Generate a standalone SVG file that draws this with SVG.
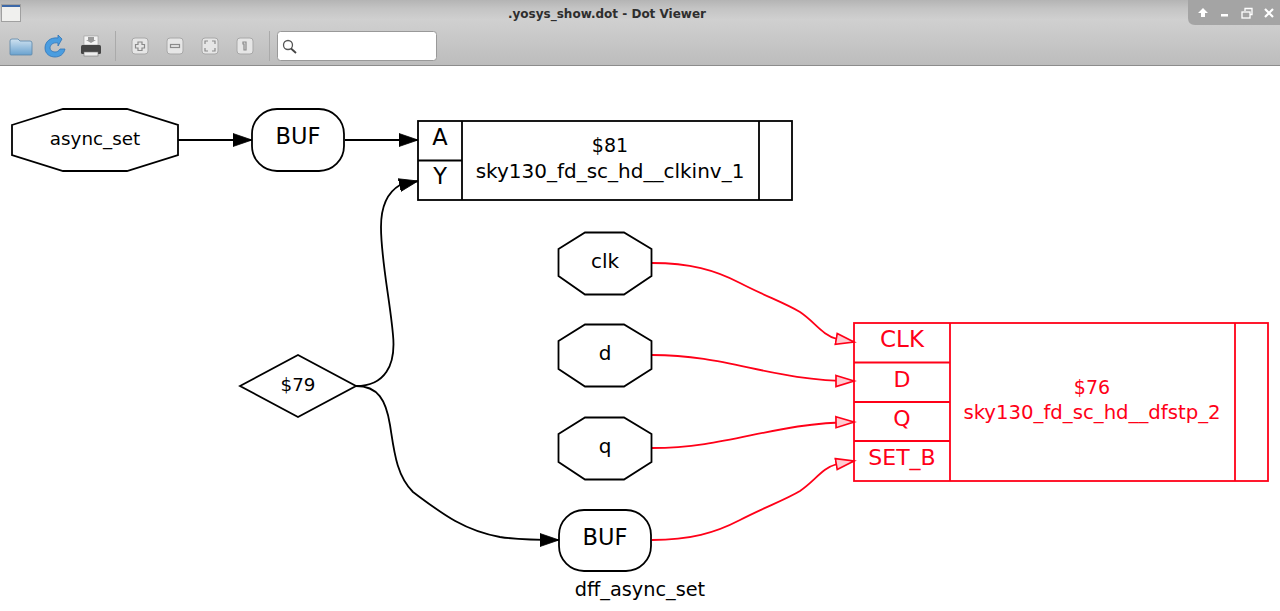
<svg xmlns="http://www.w3.org/2000/svg" width="1280" height="611" viewBox="0 0 1280 611">
<style>
text{font-family:"DejaVu Sans",sans-serif;text-anchor:middle}
.n{fill:#fff;stroke:#000;stroke-width:1.8}
.k{fill:none;stroke:#000;stroke-width:1.8}
.r{fill:none;stroke:#ff0018;stroke-width:1.8}
.t{fill:#000}
.rt{fill:#ff0018}
.s{font-size:18.300px}
.m{font-size:20px}
.rm{font-size:19.700px}
.l{font-size:22.500px}
.tb{fill:#e6e6e6;stroke:#a8a8a8;stroke-width:1}
.ic{fill:none;stroke:#8a8a8a;stroke-width:1.2}
</style>
<defs>
<linearGradient id="bar" x1="0" y1="0" x2="0" y2="1">
<stop offset="0" stop-color="#b4b4b4"/><stop offset="0.13" stop-color="#c4c4c4"/><stop offset="0.3" stop-color="#d0d0d0"/><stop offset="1" stop-color="#bcbcbc"/>
</linearGradient>
<linearGradient id="folder" x1="0" y1="0" x2="0" y2="1"><stop offset="0" stop-color="#cfe2f0"/><stop offset="1" stop-color="#6aa2cf"/></linearGradient>
<marker id="ah" markerUnits="userSpaceOnUse" markerWidth="22" markerHeight="16" refX="19" refY="8" orient="auto" viewBox="0 0 22 16"><path d="M0 1.500L19 8L0 14.500Z" fill="#000" stroke="#000" stroke-width="0.800"/></marker>
<marker id="ar" markerUnits="userSpaceOnUse" markerWidth="22" markerHeight="16" refX="19" refY="8" orient="auto" viewBox="0 0 22 16"><path d="M1 2.500L19 8L1 13.500Z" fill="#ffccd2" stroke="#ff0018" stroke-width="1.700"/></marker>
</defs>
<rect width="1280" height="611" fill="#fff"/>
<g id="window-chrome">
<rect width="1280" height="66" fill="url(#bar)"/>
<rect y="65" width="1280" height="1" fill="#8c8c8c"/>
<rect x="1.500" y="4.500" width="19" height="17" fill="#f0f0ee" stroke="#a0a0a0"/>
<rect x="2" y="5" width="18" height="2" fill="#3c68a8"/>
<text x="607" y="18" style="font-size:12px;font-weight:bold" fill="#2e2e2e">.yosys_show.dot - Dot Viewer</text>
<path d="M1188 0V18Q1188 25 1195 25H1280V0Z" fill="#a4a4a4"/>
<path d="M1203 8l5 5h-3v4h-4v-4h-3z" fill="#fff"/>
<rect x="1221" y="14" width="7" height="2.500" fill="#fff"/>
<rect x="1242" y="12" width="8" height="6" fill="none" stroke="#fff" stroke-width="1.300"/><path d="M1245 11V8.500h7v6h-2" fill="none" stroke="#fff" stroke-width="1.300"/>
<path d="M1265 9l8 8M1273 9l-8 8" stroke="#fff" stroke-width="2.200"/>
<path d="M10 41q0-2 2-2h6l2 2h10q2 0 2 2v11q0 1-1 1H11q-1 0-1-1z" fill="url(#folder)" stroke="#5a85a8" stroke-width="0.800"/>
<path d="M62 39l-4-4v3c-8-1-13 4-13 10 0 6 5 9 10 9s9-3 10-8h-5c-1 2-3 3-5 3-3 0-5-2-5-4 0-3 3-6 8-5v3z" fill="#4a9de0" stroke="#2f74b8" stroke-width="0.800"/>
<rect x="84" y="36" width="14" height="9" fill="#f4f4f4" stroke="#999" stroke-width="0.600"/>
<path d="M88 37h6v3h2l-5 3-5-3h2z" fill="#9a9a9a"/>
<rect x="81" y="45" width="20" height="9" rx="1.500" fill="#444"/>
<rect x="84" y="52" width="14" height="4" fill="#eee" stroke="#777" stroke-width="0.600"/>
<rect x="115" y="31" width="1" height="30" fill="#aaa"/>
<rect x="132" y="38" width="16" height="16" rx="3" class="tb"/><path d="M138 42h4v2.500h2.500v3.500h-2.500v2.500h-4v-2.500h-2.500v-3.500h2.500z" class="ic"/>
<rect x="167" y="38" width="16" height="16" rx="3" class="tb"/><rect x="170.500" y="44.500" width="9" height="3" class="ic"/>
<rect x="202" y="38" width="16" height="16" rx="3" class="tb"/><path d="M205 44v-3h3M215 44v-3h-3M205 48v3h3M215 48v3h-3" class="ic"/>
<rect x="237" y="38" width="16" height="16" rx="3" class="tb"/><path d="M243 42h3v8h-2v-6h-1z" class="ic"/>
<rect x="269" y="31" width="1" height="30" fill="#aaa"/>
<rect x="277.500" y="31.500" width="159" height="29" rx="3" fill="#fff" stroke="#999"/>
<circle cx="288" cy="45" r="4.500" fill="none" stroke="#555" stroke-width="1.300"/><path d="M291 48.500l5 4.500" stroke="#444" stroke-width="1.800"/>
</g>
<g id="connectors">
<path class="k" marker-end="url(#ah)" d="M178 140H252"/>
<path class="k" marker-end="url(#ah)" d="M345 140H418"/>
<path class="k" marker-end="url(#ah)" d="M356 386C385 386 396 365 393 335C390 300 381 260 381 227C381 205 388 192 400 185L418 181"/>
<path class="k" marker-end="url(#ah)" d="M356 386C378 386 386 400 390 425C394 450 396 475 413 492C440 512 462 530 500 537C520 540 535 540 559 540"/>
<path class="r" marker-end="url(#ar)" d="M652 263C690 263 715 270 740 283C765 296 785 303 800 312C815 322 822 335 837 339L854 342"/>
<path class="r" marker-end="url(#ar)" d="M652 355C730 355 770 381 854 381"/>
<path class="r" marker-end="url(#ar)" d="M652 448C730 448 770 423 854 422"/>
<path class="r" marker-end="url(#ar)" d="M652 540C690 540 715 533 740 520C765 507 785 500 800 491C815 481 822 468 837 464L854 461"/>
</g>
<g id="async_set"><path class="n" d="M12 125L63 109H127L178 125V155L127 171H63L12 155Z"/><text class="t s" x="95" y="145">async_set</text></g>
<g id="buf1"><rect class="n" x="252" y="109" width="92" height="62" rx="25" ry="25"/><text class="t l" x="298" y="144">BUF</text></g>
<g id="inv81">
<rect class="n" x="418" y="121" width="374" height="79"/>
<path class="k" d="M418 160.500H462M462 121V200M759 121V200"/>
<text class="t l" x="440" y="145">A</text><text class="t l" x="440" y="184">Y</text>
<text class="t" x="610" y="152" style="font-size:19px">$81</text><text class="t m" x="610" y="178">sky130_fd_sc_hd__clkinv_1</text>
</g>
<g id="clk"><path class="n" d="M558.500 249L585 232.500H624L651.500 249V276L624 294.500H585L558.500 276Z"/><text class="t m" x="605" y="268">clk</text></g>
<g id="d"><path class="n" d="M558.500 341L585 324.500H624L651.500 341V369L624 386.500H585L558.500 369Z"/><text class="t m" x="605" y="360">d</text></g>
<g id="q"><path class="n" d="M558.500 434L585 417.500H624L651.500 434V462L624 479.500H585L558.500 462Z"/><text class="t m" x="605" y="453">q</text></g>
<g id="v79"><path class="n" d="M240 386L298 355L356 386L298 417Z"/><text class="t s" x="298" y="391">$79</text></g>
<g id="buf2"><rect class="n" x="559" y="510" width="92" height="61" rx="25" ry="25"/><text class="t l" x="605" y="545">BUF</text></g>
<g id="dff76">
<rect x="854" y="323" width="414" height="158" fill="none" stroke="#ff0018" stroke-width="1.800"/>
<path class="r" d="M854 362.500H950M854 402H950M854 441H950M950 323V481M1235 323V481"/>
<text class="rt" x="902" y="347" style="font-size:23px">CLK</text><text class="rt" x="902" y="387" style="font-size:22px">D</text><text class="rt" x="902" y="426" style="font-size:22px">Q</text><text class="rt" x="902" y="465" style="font-size:22px">SET_B</text>
<text class="rt" x="1092" y="394" style="font-size:19px">$76</text><text class="rt rm" x="1092" y="419">sky130_fd_sc_hd__dfstp_2</text>
</g>
<text class="t" x="640" y="596" style="font-size:19.300px">dff_async_set</text>
</svg>
